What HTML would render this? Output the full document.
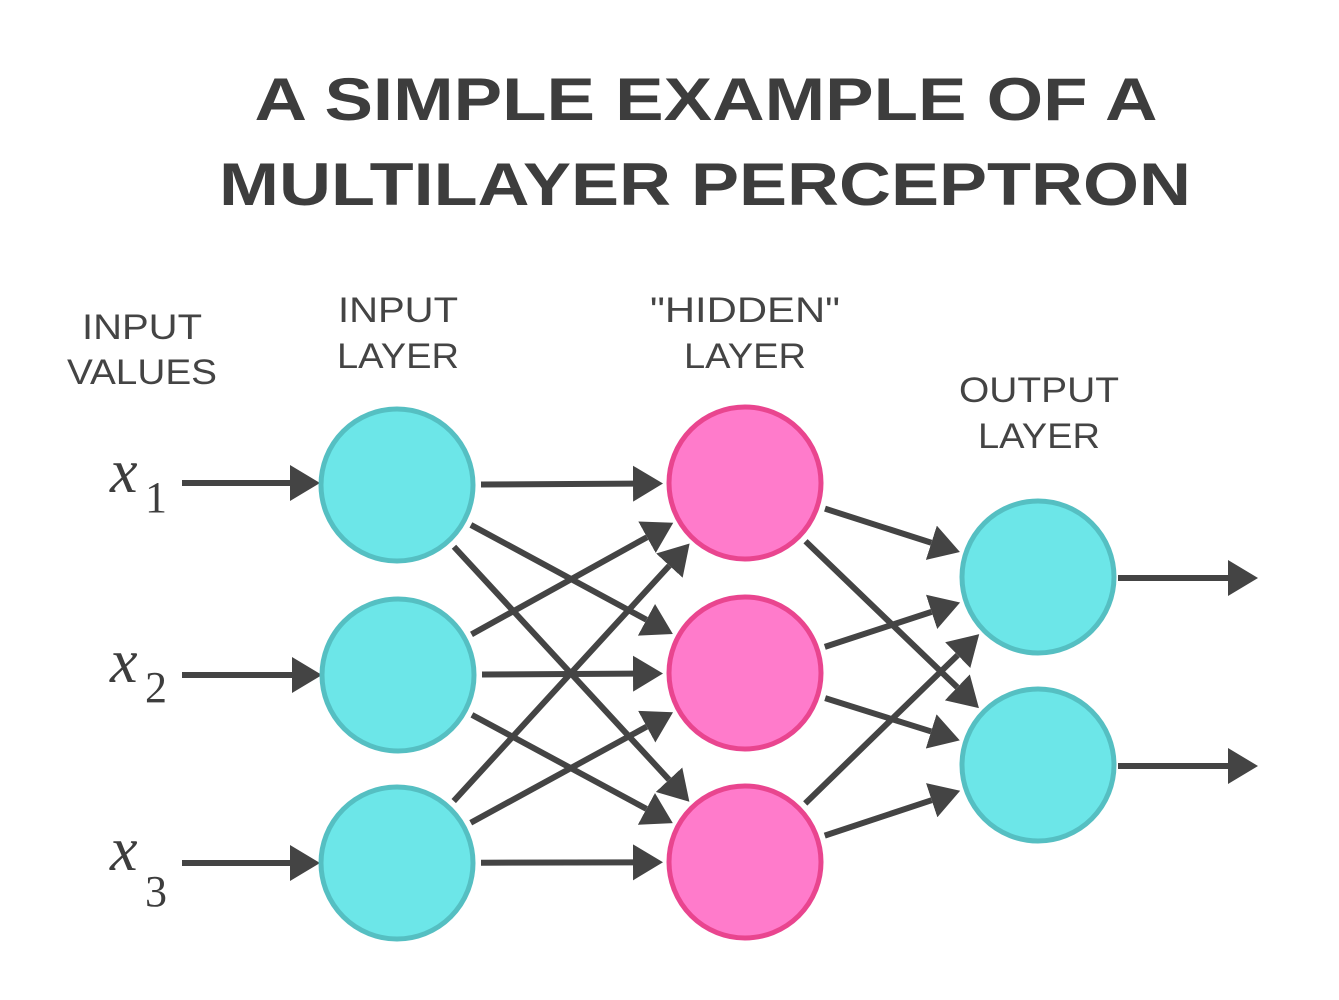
<!DOCTYPE html>
<html><head><meta charset="utf-8"><style>
html,body{margin:0;padding:0;background:#fff;width:1339px;height:1000px;overflow:hidden}
svg{display:block}
.t{font-family:"Liberation Sans",sans-serif;font-weight:bold;fill:#3d3d3d;font-size:60px}
.l{font-family:"Liberation Sans",sans-serif;fill:#444;font-size:35px}
.x{font-family:"Liberation Serif",serif;fill:#3d3d3d;font-style:italic;font-size:62px}
.s{font-family:"Liberation Serif",serif;fill:#3d3d3d;font-size:44px}
</style></head><body>
<svg id="s" width="1339" height="1000" viewBox="0 0 1339 1000" xmlns="http://www.w3.org/2000/svg">
<defs><marker id="a" markerWidth="6" markerHeight="6" refX="0" refY="3" orient="auto" markerUnits="strokeWidth"><path d="M0,0 L5,3 L0,6 z" fill="#444"/></marker></defs>
<text class="t" x="706" y="120" text-anchor="middle" textLength="903" lengthAdjust="spacingAndGlyphs">A SIMPLE EXAMPLE OF A</text>
<text class="t" x="705" y="205" text-anchor="middle" textLength="972" lengthAdjust="spacingAndGlyphs">MULTILAYER PERCEPTRON</text>
<text class="l" x="142" y="339" text-anchor="middle" textLength="120" lengthAdjust="spacingAndGlyphs">INPUT</text>
<text class="l" x="142" y="384" text-anchor="middle" textLength="150" lengthAdjust="spacingAndGlyphs">VALUES</text>
<text class="l" x="398" y="322" text-anchor="middle" textLength="120" lengthAdjust="spacingAndGlyphs">INPUT</text>
<text class="l" x="398" y="368" text-anchor="middle" textLength="122" lengthAdjust="spacingAndGlyphs">LAYER</text>
<text class="l" x="745" y="322" text-anchor="middle" textLength="190" lengthAdjust="spacingAndGlyphs">"HIDDEN"</text>
<text class="l" x="745" y="368" text-anchor="middle" textLength="122" lengthAdjust="spacingAndGlyphs">LAYER</text>
<text class="l" x="1039" y="402" text-anchor="middle" textLength="160" lengthAdjust="spacingAndGlyphs">OUTPUT</text>
<text class="l" x="1039" y="448" text-anchor="middle" textLength="122" lengthAdjust="spacingAndGlyphs">LAYER</text>
<g id="g"></g>
<text class="x" x="110" y="492">x</text><text class="s" x="145" y="512">1</text>
<text class="x" x="110" y="682">x</text><text class="s" x="145" y="702">2</text>
<text class="x" x="110" y="870">x</text><text class="s" x="145" y="906">3</text>
</svg>
<script>
var g=document.getElementById('g'),ns='http://www.w3.org/2000/svg';
function line(x1,y1,x2,y2){var l=document.createElementNS(ns,'line');l.setAttribute('x1',x1);l.setAttribute('y1',y1);l.setAttribute('x2',x2);l.setAttribute('y2',y2);l.setAttribute('stroke','#444');l.setAttribute('stroke-width','6');l.setAttribute('marker-end','url(#a)');g.appendChild(l);}
var I=[[397,485],[398,675],[397,863]],H=[[745,483],[745,673],[745,862]],O=[[1038,577],[1038,765]];
function conn(a,b){var dx=b[0]-a[0],dy=b[1]-a[1],d=Math.sqrt(dx*dx+dy*dy),ux=dx/d,uy=dy/d;var s=84,e=84+28;line(a[0]+ux*s,a[1]+uy*s,b[0]-ux*e,b[1]-uy*e);}
I.forEach(function(a){H.forEach(function(b){conn(a,b)})});
H.forEach(function(a){O.forEach(function(b){conn(a,b)})});
line(182,483,290,483);line(182,675,292,675);line(182,863,290,863);
line(1118,578,1228,578);line(1118,766,1228,766);
function circ(c,f,s){var e=document.createElementNS(ns,'circle');e.setAttribute('cx',c[0]);e.setAttribute('cy',c[1]);e.setAttribute('r',76);e.setAttribute('fill',f);e.setAttribute('stroke',s);e.setAttribute('stroke-width','5');g.appendChild(e);}
I.forEach(function(c){circ(c,'#6ce6e8','#55bfc2')});
H.forEach(function(c){circ(c,'#ff7bcb','#e9458f')});
O.forEach(function(c){circ(c,'#6ce6e8','#55bfc2')});
</script>
</body></html>
